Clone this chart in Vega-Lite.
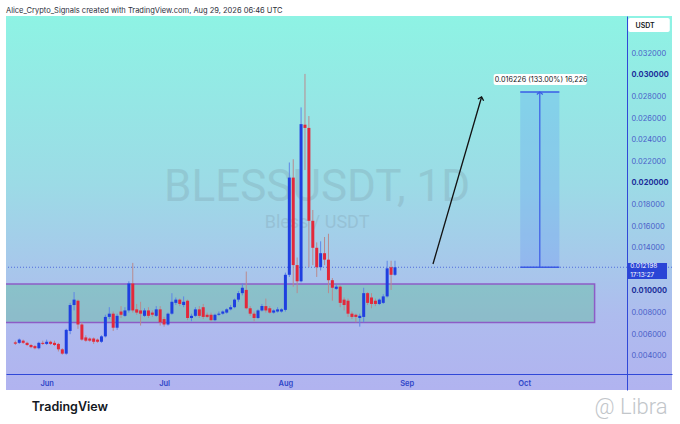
{
  "$schema": "https://vega.github.io/schema/vega-lite/v6.json",
  "autosize": {"type": "none"},
  "width": 666,
  "height": 374,
  "padding": {"left": 6, "top": 16, "right": 8, "bottom": 34},
  "background": "#ffffff",
  "view": {"stroke": null, "fill": {"gradient": "linear", "x1": 0, "y1": 0, "x2": 0, "y2": 1, "stops": [{"offset": 0, "color": "#8ef3e4"}, {"offset": 0.45, "color": "#9cdbe6"}, {"offset": 0.8, "color": "#aebcee"}, {"offset": 1, "color": "#b1b3f0"}]}},
  "config": {"view": {"stroke": null}, "font": "Inter", "axis": {"labelOverlap": false}},
  "title": {"text": "Alice_Crypto_Signals created with TradingView.com, Aug 29, 2026 06:46 UTC", "anchor": "start", "frame": "group", "fontSize": 7.5, "fontWeight": "normal", "color": "#2a2e39", "font": "Inter", "offset": 3, "baseline": "bottom", "dy": 9},
  "datasets": {
    "candles": [
      {"d": "2026-05-24", "o": 0.00524, "h": 0.0054, "l": 0.0050, "c": 0.00512},
      {"d": "2026-05-25", "o": 0.0052, "h": 0.0056, "l": 0.0051, "c": 0.0055},
      {"d": "2026-05-26", "o": 0.0054, "h": 0.0055, "l": 0.0051, "c": 0.0052},
      {"d": "2026-05-27", "o": 0.0052, "h": 0.0053, "l": 0.0049, "c": 0.0050},
      {"d": "2026-05-28", "o": 0.0050, "h": 0.0051, "l": 0.0047, "c": 0.0048},
      {"d": "2026-05-29", "o": 0.0049, "h": 0.0050, "l": 0.0046, "c": 0.0047},
      {"d": "2026-05-30", "o": 0.0047, "h": 0.0053, "l": 0.0046, "c": 0.0052},
      {"d": "2026-05-31", "o": 0.0052, "h": 0.0054, "l": 0.0050, "c": 0.0051},
      {"d": "2026-06-01", "o": 0.0051, "h": 0.0055, "l": 0.0050, "c": 0.0053},
      {"d": "2026-06-02", "o": 0.0053, "h": 0.0054, "l": 0.0050, "c": 0.0051},
      {"d": "2026-06-03", "o": 0.0052, "h": 0.0054, "l": 0.0049, "c": 0.0050},
      {"d": "2026-06-04", "o": 0.0051, "h": 0.0052, "l": 0.0044, "c": 0.0046},
      {"d": "2026-06-05", "o": 0.0046, "h": 0.0047, "l": 0.0041, "c": 0.0042},
      {"d": "2026-06-06", "o": 0.0042, "h": 0.0065, "l": 0.0041, "c": 0.0064},
      {"d": "2026-06-07", "o": 0.0063, "h": 0.0089, "l": 0.0060, "c": 0.0087},
      {"d": "2026-06-08", "o": 0.0087, "h": 0.0099, "l": 0.0082, "c": 0.0092},
      {"d": "2026-06-09", "o": 0.0091, "h": 0.0092, "l": 0.0065, "c": 0.0069},
      {"d": "2026-06-10", "o": 0.0069, "h": 0.0071, "l": 0.0054, "c": 0.0055},
      {"d": "2026-06-11", "o": 0.0057, "h": 0.0059, "l": 0.0053, "c": 0.0054},
      {"d": "2026-06-12", "o": 0.0056, "h": 0.0057, "l": 0.0053, "c": 0.0054},
      {"d": "2026-06-13", "o": 0.0056, "h": 0.0057, "l": 0.0051, "c": 0.0053},
      {"d": "2026-06-14", "o": 0.0055, "h": 0.0056, "l": 0.0052, "c": 0.0053},
      {"d": "2026-06-15", "o": 0.0053, "h": 0.0059, "l": 0.0052, "c": 0.0058},
      {"d": "2026-06-16", "o": 0.0058, "h": 0.0078, "l": 0.0057, "c": 0.0076},
      {"d": "2026-06-17", "o": 0.0076, "h": 0.0085, "l": 0.0074, "c": 0.0079},
      {"d": "2026-06-18", "o": 0.0079, "h": 0.0081, "l": 0.0063, "c": 0.0066},
      {"d": "2026-06-19", "o": 0.0066, "h": 0.0079, "l": 0.0064, "c": 0.0077},
      {"d": "2026-06-20", "o": 0.0081, "h": 0.0086, "l": 0.0075, "c": 0.0078},
      {"d": "2026-06-21", "o": 0.0077, "h": 0.0085, "l": 0.0076, "c": 0.0082},
      {"d": "2026-06-22", "o": 0.0082, "h": 0.0109, "l": 0.0080, "c": 0.0107},
      {"d": "2026-06-23", "o": 0.0107, "h": 0.0126, "l": 0.0080, "c": 0.0082},
      {"d": "2026-06-24", "o": 0.0083, "h": 0.0088, "l": 0.0078, "c": 0.0080},
      {"d": "2026-06-25", "o": 0.0082, "h": 0.0090, "l": 0.0068, "c": 0.0079},
      {"d": "2026-06-26", "o": 0.0077, "h": 0.0084, "l": 0.0076, "c": 0.0082},
      {"d": "2026-06-27", "o": 0.0082, "h": 0.0085, "l": 0.0075, "c": 0.0077},
      {"d": "2026-06-28", "o": 0.0080, "h": 0.0082, "l": 0.0076, "c": 0.0078},
      {"d": "2026-06-29", "o": 0.0077, "h": 0.0086, "l": 0.0076, "c": 0.0083},
      {"d": "2026-06-30", "o": 0.0083, "h": 0.0086, "l": 0.0068, "c": 0.0071},
      {"d": "2026-07-01", "o": 0.0074, "h": 0.0076, "l": 0.0067, "c": 0.0069},
      {"d": "2026-07-02", "o": 0.0069, "h": 0.0080, "l": 0.0068, "c": 0.0079},
      {"d": "2026-07-03", "o": 0.0079, "h": 0.0098, "l": 0.0078, "c": 0.0090},
      {"d": "2026-07-04", "o": 0.0089, "h": 0.0094, "l": 0.0087, "c": 0.0092},
      {"d": "2026-07-05", "o": 0.0092, "h": 0.0093, "l": 0.0086, "c": 0.0088},
      {"d": "2026-07-06", "o": 0.0087, "h": 0.0095, "l": 0.0085, "c": 0.0090},
      {"d": "2026-07-07", "o": 0.0091, "h": 0.0092, "l": 0.0073, "c": 0.0075},
      {"d": "2026-07-08", "o": 0.0075, "h": 0.0079, "l": 0.0072, "c": 0.0077},
      {"d": "2026-07-09", "o": 0.0077, "h": 0.0085, "l": 0.0076, "c": 0.0083},
      {"d": "2026-07-10", "o": 0.0083, "h": 0.0086, "l": 0.0075, "c": 0.0077},
      {"d": "2026-07-11", "o": 0.0085, "h": 0.0088, "l": 0.0074, "c": 0.0076},
      {"d": "2026-07-12", "o": 0.0078, "h": 0.0080, "l": 0.0075, "c": 0.0076},
      {"d": "2026-07-13", "o": 0.0078, "h": 0.0080, "l": 0.0072, "c": 0.0073},
      {"d": "2026-07-14", "o": 0.0073, "h": 0.0079, "l": 0.0072, "c": 0.0078},
      {"d": "2026-07-15", "o": 0.0078, "h": 0.0081, "l": 0.0077, "c": 0.0079},
      {"d": "2026-07-16", "o": 0.0079, "h": 0.0082, "l": 0.0078, "c": 0.0081},
      {"d": "2026-07-17", "o": 0.0080, "h": 0.0084, "l": 0.0079, "c": 0.0083},
      {"d": "2026-07-18", "o": 0.0083, "h": 0.0087, "l": 0.0082, "c": 0.0085},
      {"d": "2026-07-19", "o": 0.0085, "h": 0.0093, "l": 0.0084, "c": 0.0092},
      {"d": "2026-07-20", "o": 0.0092, "h": 0.0100, "l": 0.0090, "c": 0.0098},
      {"d": "2026-07-21", "o": 0.0098, "h": 0.0107, "l": 0.0096, "c": 0.0103},
      {"d": "2026-07-22", "o": 0.0101, "h": 0.0118, "l": 0.0083, "c": 0.0084},
      {"d": "2026-07-23", "o": 0.0084, "h": 0.0086, "l": 0.0077, "c": 0.0079},
      {"d": "2026-07-24", "o": 0.0079, "h": 0.0081, "l": 0.0072, "c": 0.0075},
      {"d": "2026-07-25", "o": 0.0075, "h": 0.0083, "l": 0.0074, "c": 0.0082},
      {"d": "2026-07-26", "o": 0.0082, "h": 0.0088, "l": 0.0081, "c": 0.0086},
      {"d": "2026-07-27", "o": 0.0086, "h": 0.0093, "l": 0.0080, "c": 0.0082},
      {"d": "2026-07-28", "o": 0.0084, "h": 0.0086, "l": 0.0079, "c": 0.0080},
      {"d": "2026-07-29", "o": 0.0080, "h": 0.0083, "l": 0.0079, "c": 0.0082},
      {"d": "2026-07-30", "o": 0.0081, "h": 0.0085, "l": 0.0080, "c": 0.0083},
      {"d": "2026-07-31", "o": 0.0081, "h": 0.0084, "l": 0.0080, "c": 0.0083},
      {"d": "2026-08-01", "o": 0.00825, "h": 0.0117, "l": 0.0081, "c": 0.0115},
      {"d": "2026-08-02", "o": 0.0115, "h": 0.0219, "l": 0.0113, "c": 0.0205},
      {"d": "2026-08-03", "o": 0.0205, "h": 0.0222, "l": 0.0104, "c": 0.0124},
      {"d": "2026-08-04", "o": 0.0124, "h": 0.0131, "l": 0.0098, "c": 0.0109},
      {"d": "2026-08-05", "o": 0.0109, "h": 0.0270, "l": 0.0108, "c": 0.02545},
      {"d": "2026-08-06", "o": 0.0254, "h": 0.0301, "l": 0.0212, "c": 0.0251},
      {"d": "2026-08-07", "o": 0.0251, "h": 0.0262, "l": 0.0122, "c": 0.0165},
      {"d": "2026-08-08", "o": 0.0165, "h": 0.0175, "l": 0.0124, "c": 0.0140},
      {"d": "2026-08-09", "o": 0.0140, "h": 0.0145, "l": 0.0113, "c": 0.0122},
      {"d": "2026-08-10", "o": 0.0122, "h": 0.0146, "l": 0.0119, "c": 0.0135},
      {"d": "2026-08-11", "o": 0.0135, "h": 0.0150, "l": 0.0124, "c": 0.0129},
      {"d": "2026-08-12", "o": 0.0129, "h": 0.0153, "l": 0.0098, "c": 0.0110},
      {"d": "2026-08-13", "o": 0.0110, "h": 0.0112, "l": 0.0091, "c": 0.0103},
      {"d": "2026-08-14", "o": 0.0102, "h": 0.0106, "l": 0.0101, "c": 0.0104},
      {"d": "2026-08-15", "o": 0.0104, "h": 0.0105, "l": 0.0085, "c": 0.0089},
      {"d": "2026-08-16", "o": 0.0092, "h": 0.0094, "l": 0.0082, "c": 0.0087},
      {"d": "2026-08-17", "o": 0.0091, "h": 0.0093, "l": 0.0076, "c": 0.0079},
      {"d": "2026-08-18", "o": 0.0079, "h": 0.0081, "l": 0.0074, "c": 0.0076},
      {"d": "2026-08-19", "o": 0.0078, "h": 0.0079, "l": 0.0071, "c": 0.0076},
      {"d": "2026-08-20", "o": 0.0075, "h": 0.0079, "l": 0.0067, "c": 0.0077},
      {"d": "2026-08-21", "o": 0.0076, "h": 0.0103, "l": 0.0071, "c": 0.0098},
      {"d": "2026-08-22", "o": 0.0098, "h": 0.0099, "l": 0.0087, "c": 0.0089},
      {"d": "2026-08-23", "o": 0.0094, "h": 0.0098, "l": 0.0084, "c": 0.0088},
      {"d": "2026-08-24", "o": 0.0091, "h": 0.0093, "l": 0.0086, "c": 0.0088},
      {"d": "2026-08-25", "o": 0.0088, "h": 0.0093, "l": 0.0087, "c": 0.0092},
      {"d": "2026-08-26", "o": 0.0089, "h": 0.0097, "l": 0.0088, "c": 0.0095},
      {"d": "2026-08-27", "o": 0.0095, "h": 0.0128, "l": 0.0094, "c": 0.0121},
      {"d": "2026-08-28", "o": 0.0122, "h": 0.0128, "l": 0.0101, "c": 0.0115},
      {"d": "2026-08-29", "o": 0.0115, "h": 0.0128, "l": 0.0114, "c": 0.012198}
    ],
    "range": [{"p": 0.012198}, {"p": 0.028424}],
    "one": [{}]
  },
  "layer": [
    {
      "data": {"name": "candles"},
      "mark": {"type": "bar", "size": 3, "opacity": 0},
      "encoding": {
        "x": {
          "field": "d", "type": "temporal",
          "scale": {"type": "utc", "domain": [1779484560000, 1793966400000]},
          "axis": {
            "orient": "bottom", "offset": -16, "title": null, "grid": false, "ticks": false, "zindex": 2, "domain": true,
            "values": [1780272000000, 1782864000000, 1785542400000, 1788220800000, 1790812800000], "tickCount": 40,
            "labelExpr": "utcFormat(datum.value, '%b')", "labelOverlap": false,
            "labelPadding": 5, "labelFontSize": 7.5, "labelFontWeight": 600, "labelColor": "#2f46c8", "labelFont": "Inter",
            "domainColor": "#3048d8", "domainWidth": 1
          }
        },
        "y": {
          "field": "o", "type": "quantitative",
          "scale": {"domain": [0.000833, 0.035463], "nice": false, "zero": false},
          "axis": {
            "orient": "right", "offset": -45, "grid": false, "ticks": false, "zindex": 2, "domain": true,
            "values": [0.004, 0.006, 0.008, 0.010, 0.014, 0.016, 0.018, 0.020, 0.022, 0.024, 0.026, 0.028, 0.030, 0.032], "tickCount": 40,
            "format": ".6f", "labelOverlap": false, "labelPadding": 4, "labelFontSize": 7.5, "labelFont": "Inter",
            "labelColor": {"condition": {"test": "abs(datum.value*100 - round(datum.value*100)) < 0.000001", "value": "#1c2f9a"}, "value": "#4a5fc9"},
            "labelFontWeight": {"condition": {"test": "abs(datum.value*100 - round(datum.value*100)) < 0.000001", "value": "bold"}, "value": "normal"},
            "domainColor": "#3048d8", "domainWidth": 1,
            "title": "USDT", "titleAngle": 0, "titleAlign": "left", "titleBaseline": "middle", "titleX": 8, "titleY": 9, "titleFontSize": 7, "titleFontWeight": 600, "titleColor": "#131722", "titleFont": "Inter"
          }
        },
        "y2": {"field": "c"}
      }
    },
    {
      "data": {"name": "one"},
      "mark": {"type": "text", "fontSize": 44, "font": "Roboto", "color": "#6b7f8c", "opacity": 0.2, "align": "center", "baseline": "middle"},
      "encoding": {
        "x": {"datum": {"year": 2026, "month": 8, "date": 9, "hours": 2, "utc": true}, "type": "temporal"},
        "y": {"datum": 0.01954, "type": "quantitative"},
        "text": {"value": "BLESSUSDT, 1D"}
      }
    },
    {
      "data": {"name": "one"},
      "mark": {"type": "text", "fontSize": 18, "font": "Roboto", "color": "#6b7f8c", "opacity": 0.2, "align": "center", "baseline": "middle"},
      "encoding": {
        "x": {"datum": {"year": 2026, "month": 8, "date": 9, "hours": 2, "utc": true}, "type": "temporal"},
        "y": {"datum": 0.01630, "type": "quantitative"},
        "text": {"value": "Bless / USDT"}
      }
    },
    {
      "data": {"name": "one"},
      "mark": {"type": "rect", "fill": "#36c070", "fillOpacity": 0.28, "stroke": "#8d5cc6", "strokeWidth": 1.5, "clip": true},
      "encoding": {
        "x": {"datum": {"year": 2026, "month": 5, "date": 1, "utc": true}, "type": "temporal"},
        "x2": {"datum": {"year": 2026, "month": 10, "date": 19, "utc": true}},
        "y": {"datum": 0.01065, "type": "quantitative"},
        "y2": {"datum": 0.00708}
      }
    },
    {
      "data": {"name": "one"},
      "mark": {"type": "rect", "fill": "#2962ff", "fillOpacity": 0.16},
      "encoding": {
        "x": {"datum": {"year": 2026, "month": 9, "date": 30, "utc": true}, "type": "temporal"},
        "x2": {"datum": {"year": 2026, "month": 10, "date": 10, "utc": true}},
        "y": {"datum": 0.012198, "type": "quantitative"},
        "y2": {"datum": 0.028424}
      }
    },
    {
      "data": {"name": "range"},
      "mark": {"type": "rule", "color": "#3a5be6", "strokeWidth": 1.5},
      "encoding": {
        "x": {"datum": {"year": 2026, "month": 9, "date": 30, "utc": true}, "type": "temporal"},
        "x2": {"datum": {"year": 2026, "month": 10, "date": 10, "utc": true}},
        "y": {"field": "p", "type": "quantitative"}
      }
    },
    {
      "data": {"name": "one"},
      "mark": {"type": "rule", "color": "#3a5be6", "strokeWidth": 1.2},
      "encoding": {
        "x": {"datum": {"year": 2026, "month": 10, "date": 5, "utc": true}, "type": "temporal"},
        "y": {"datum": 0.012198, "type": "quantitative"},
        "y2": {"datum": 0.028424}
      }
    },
    {
      "data": {"name": "one"},
      "mark": {"type": "point", "shape": "M-3,2.5L0,0L3,2.5", "filled": false, "stroke": "#3a5be6", "strokeWidth": 1.2, "size": 4, "opacity": 1},
      "encoding": {
        "x": {"datum": {"year": 2026, "month": 10, "date": 5, "utc": true}, "type": "temporal"},
        "y": {"datum": 0.028424, "type": "quantitative"}
      }
    },
    {
      "data": {"name": "one"},
      "mark": {"type": "rect", "fill": "#ffffff", "cornerRadius": 2},
      "encoding": {
        "x": {"datum": {"year": 2026, "month": 9, "date": 23, "hours": 5, "utc": true}, "type": "temporal"},
        "x2": {"datum": {"year": 2026, "month": 10, "date": 17, "utc": true}},
        "y": {"datum": 0.030093, "type": "quantitative"},
        "y2": {"datum": 0.029074}
      }
    },
    {
      "data": {"name": "one"},
      "mark": {"type": "text", "fontSize": 7.2, "font": "Inter", "color": "#131722", "align": "center", "baseline": "middle"},
      "encoding": {
        "x": {"datum": {"year": 2026, "month": 10, "date": 5, "hours": 8, "utc": true}, "type": "temporal"},
        "y": {"datum": 0.029583, "type": "quantitative"},
        "text": {"value": "0.016226 (133.00%) 16,226"}
      }
    },
    {
      "data": {"name": "one"},
      "mark": {"type": "rule", "color": "#111111", "strokeWidth": 1.3},
      "encoding": {
        "x": {"datum": {"year": 2026, "month": 9, "date": 7, "hours": 17, "utc": true}, "type": "temporal"},
        "x2": {"datum": {"year": 2026, "month": 9, "date": 20, "hours": 3, "utc": true}},
        "y": {"datum": 0.0125, "type": "quantitative"},
        "y2": {"datum": 0.027963}
      }
    },
    {
      "data": {"name": "one"},
      "mark": {"type": "point", "shape": "M-3,3L0,0L3,3", "filled": false, "stroke": "#111111", "strokeWidth": 1.3, "size": 4, "angle": 16, "opacity": 1},
      "encoding": {
        "x": {"datum": {"year": 2026, "month": 9, "date": 20, "hours": 3, "utc": true}, "type": "temporal"},
        "y": {"datum": 0.027963, "type": "quantitative"}
      }
    },
    {
      "data": {"name": "one"},
      "mark": {"type": "rule", "color": "#3a55d8", "strokeWidth": 1, "strokeDash": [1, 2], "opacity": 0.8},
      "encoding": {
        "y": {"datum": 0.012198, "type": "quantitative"}
      }
    },
    {
      "data": {"name": "candles"},
      "mark": {"type": "rule", "strokeWidth": 1},
      "encoding": {
        "x": {"field": "d", "type": "temporal"},
        "y": {"field": "l", "type": "quantitative"},
        "y2": {"field": "h"},
        "color": {"condition": {"test": "datum.c >= datum.o", "value": "#5e86e6"}, "value": "#b98a8e"}
      }
    },
    {
      "data": {"name": "candles"},
      "mark": {"type": "bar", "size": 3},
      "encoding": {
        "x": {"field": "d", "type": "temporal"},
        "y": {"field": "o", "type": "quantitative"},
        "y2": {"field": "c"},
        "color": {"condition": {"test": "datum.c >= datum.o", "value": "#1f3fe0"}, "value": "#e3283a"}
      }
    },
    {
      "data": {"name": "one"},
      "mark": {"type": "rect", "fill": "#2a45d6"},
      "encoding": {
        "x": {"datum": {"year": 2026, "month": 10, "date": 27, "hours": 8, "utc": true}, "type": "temporal"},
        "x2": {"datum": {"year": 2026, "month": 11, "date": 6, "hours": 12, "utc": true}},
        "y": {"datum": 0.012593, "type": "quantitative"},
        "y2": {"datum": 0.011111}
      }
    },
    {
      "data": {"name": "one"},
      "mark": {"type": "text", "fontSize": 6.5, "font": "Inter", "color": "#ffffff", "align": "left", "baseline": "middle"},
      "encoding": {
        "x": {"datum": {"year": 2026, "month": 10, "date": 28, "hours": 2, "utc": true}, "type": "temporal"},
        "y": {"datum": 0.012269, "type": "quantitative"},
        "text": {"value": "0.012198"}
      }
    },
    {
      "data": {"name": "one"},
      "mark": {"type": "text", "fontSize": 6.5, "font": "Inter", "color": "#ffffff", "align": "left", "baseline": "middle"},
      "encoding": {
        "x": {"datum": {"year": 2026, "month": 10, "date": 28, "hours": 2, "utc": true}, "type": "temporal"},
        "y": {"datum": 0.011435, "type": "quantitative"},
        "text": {"value": "17:13:27"}
      }
    },
    {
      "data": {"name": "one"},
      "mark": {"type": "rect", "fill": "#ffffff", "cornerRadius": 2},
      "encoding": {
        "x": {"datum": {"year": 2026, "month": 10, "date": 27, "hours": 14, "utc": true}, "type": "temporal"},
        "x2": {"datum": {"year": 2026, "month": 11, "date": 7, "hours": 5, "utc": true}},
        "y": {"datum": 0.035278, "type": "quantitative"},
        "y2": {"datum": 0.033981}
      }
    },
    {
      "data": {"name": "one"},
      "mark": {"type": "text", "fontSize": 12.5, "font": "Inter", "fontWeight": 600, "color": "#131722", "align": "left", "baseline": "middle"},
      "encoding": {
        "x": {"datum": {"year": 2026, "month": 5, "date": 28, "hours": 5, "utc": true}, "type": "temporal"},
        "y": {"datum": -0.00074, "type": "quantitative"},
        "text": {"value": "TradingView"}
      }
    },
    {
      "data": {"name": "one"},
      "mark": {"type": "text", "fontSize": 22, "font": "Roboto", "fontWeight": 300, "color": "#c2c6ca", "align": "left", "baseline": "middle"},
      "encoding": {
        "x": {"datum": {"year": 2026, "month": 10, "date": 19, "utc": true}, "type": "temporal"},
        "y": {"datum": -0.00074, "type": "quantitative"},
        "text": {"value": "@ Libra"}
      }
    }
  ]
}
